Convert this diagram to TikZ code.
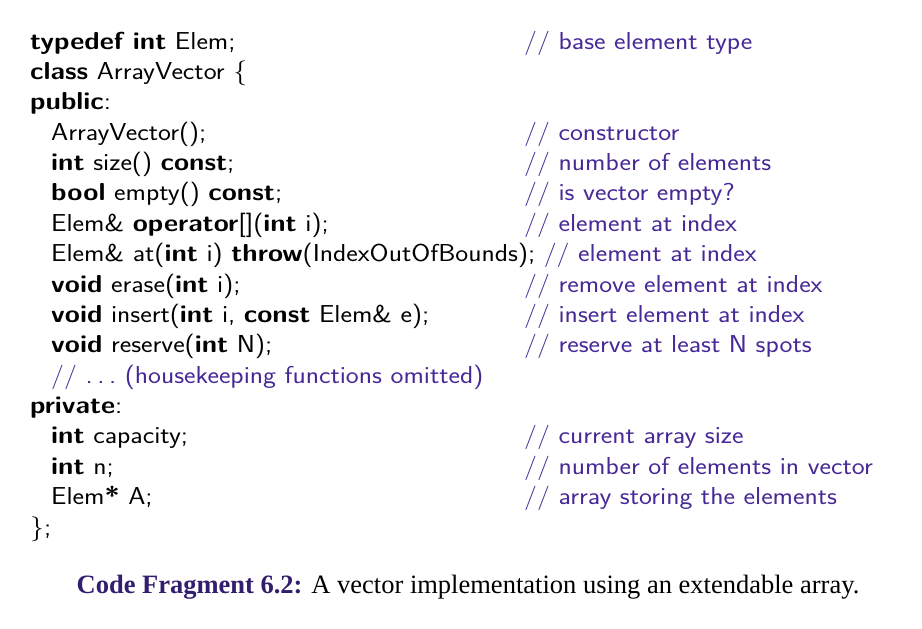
\documentclass[tikz,border=0pt]{standalone}
\usepackage{fontspec}
\newfontfamily\capfont{Liberation Serif}
\definecolor{cmt}{RGB}{70,40,150}
\definecolor{capc}{RGB}{50,30,110}
\begin{document}
\begin{tikzpicture}[x=1pt,y=-1pt,
  code/.style={anchor=base west,inner sep=0pt,xscale=1.12,font=\sffamily\fontsize{24.5}{28}\selectfont},
  cmtx/.style={code,text=cmt}]
\useasboundingbox (0,0) rectangle (922,629);
\newcommand\kw[1]{\textbf{#1}}
\def\L{30}\def\I{51}\def\C{524}
\def\yy#1{49+30.375*#1}
\node[code] (l0) at (\L,{\yy{0}}) {\kw{typedef} \kw{int} Elem;};
\node[cmtx] (c0) at (\C,{\yy{0}}) {// base element type};
\node[code] (l1) at (\L,{\yy{1}}) {\kw{class} ArrayVector $\{$};
\node[code] (l2) at (\L,{\yy{2}}) {\kw{public}:};
\node[code] (l3) at (\I,{\yy{3}}) {ArrayVector();};
\node[cmtx] (c3) at (\C,{\yy{3}}) {// constructor};
\node[code] (l4) at (\I,{\yy{4}}) {\kw{int} size() \kw{const};};
\node[cmtx] (c4) at (\C,{\yy{4}}) {// number of elements};
\node[code] (l5) at (\I,{\yy{5}}) {\kw{bool} empty() \kw{const};};
\node[cmtx] (c5) at (\C,{\yy{5}}) {// is vector empty?};
\node[code] (l6) at (\I,{\yy{6}}) {Elem\& \kw{operator}[](\kw{int} i);};
\node[cmtx] (c6) at (\C,{\yy{6}}) {// element at index};
\node[code] (l7) at (\I,{\yy{7}}) {Elem\& at(\kw{int} i) \kw{throw}(IndexOutOfBounds);\ \textcolor{cmt}{// element at index}};
\node[code] (l8) at (\I,{\yy{8}}) {\kw{void} erase(\kw{int} i);};
\node[cmtx] (c8) at (\C,{\yy{8}}) {// remove element at index};
\node[code] (l9) at (\I,{\yy{9}}) {\kw{void} insert(\kw{int} i, \kw{const} Elem\& e);};
\node[cmtx] (c9) at (\C,{\yy{9}}) {// insert element at index};
\node[code] (l10) at (\I,{\yy{10}}) {\kw{void} reserve(\kw{int} N);};
\node[cmtx] (c10) at (\C,{\yy{10}}) {// reserve at least N spots};
\node[cmtx] (l11) at (\I,{\yy{11}}) {// .\,.\,.\ (housekeeping functions omitted)};
\node[code] (l12) at (\L,{\yy{12}}) {\kw{private}:};
\node[code] (l13) at (\I,{\yy{13}}) {\kw{int} capacity;};
\node[cmtx] (c13) at (\C,{\yy{13}}) {// current array size};
\node[code] (l14) at (\I,{\yy{14}}) {\kw{int} n;};
\node[cmtx] (c14) at (\C,{\yy{14}}) {// number of elements in vector};
\node[code] (l15) at (\I,{\yy{15}}) {Elem\kw{*} A;};
\node[cmtx] (c15) at (\C,{\yy{15}}) {// array storing the elements};
\node[code] (l16) at (\L,{\yy{16}}) {$\}$;};
\node[anchor=base,inner sep=0pt,font=\capfont\fontsize{26.5}{30}\selectfont] (cap) at (468,593)
  {\textcolor{capc}{\textbf{Code Fragment 6.2:}} A vector implementation using an extendable array.};
\end{tikzpicture}
\end{document}
